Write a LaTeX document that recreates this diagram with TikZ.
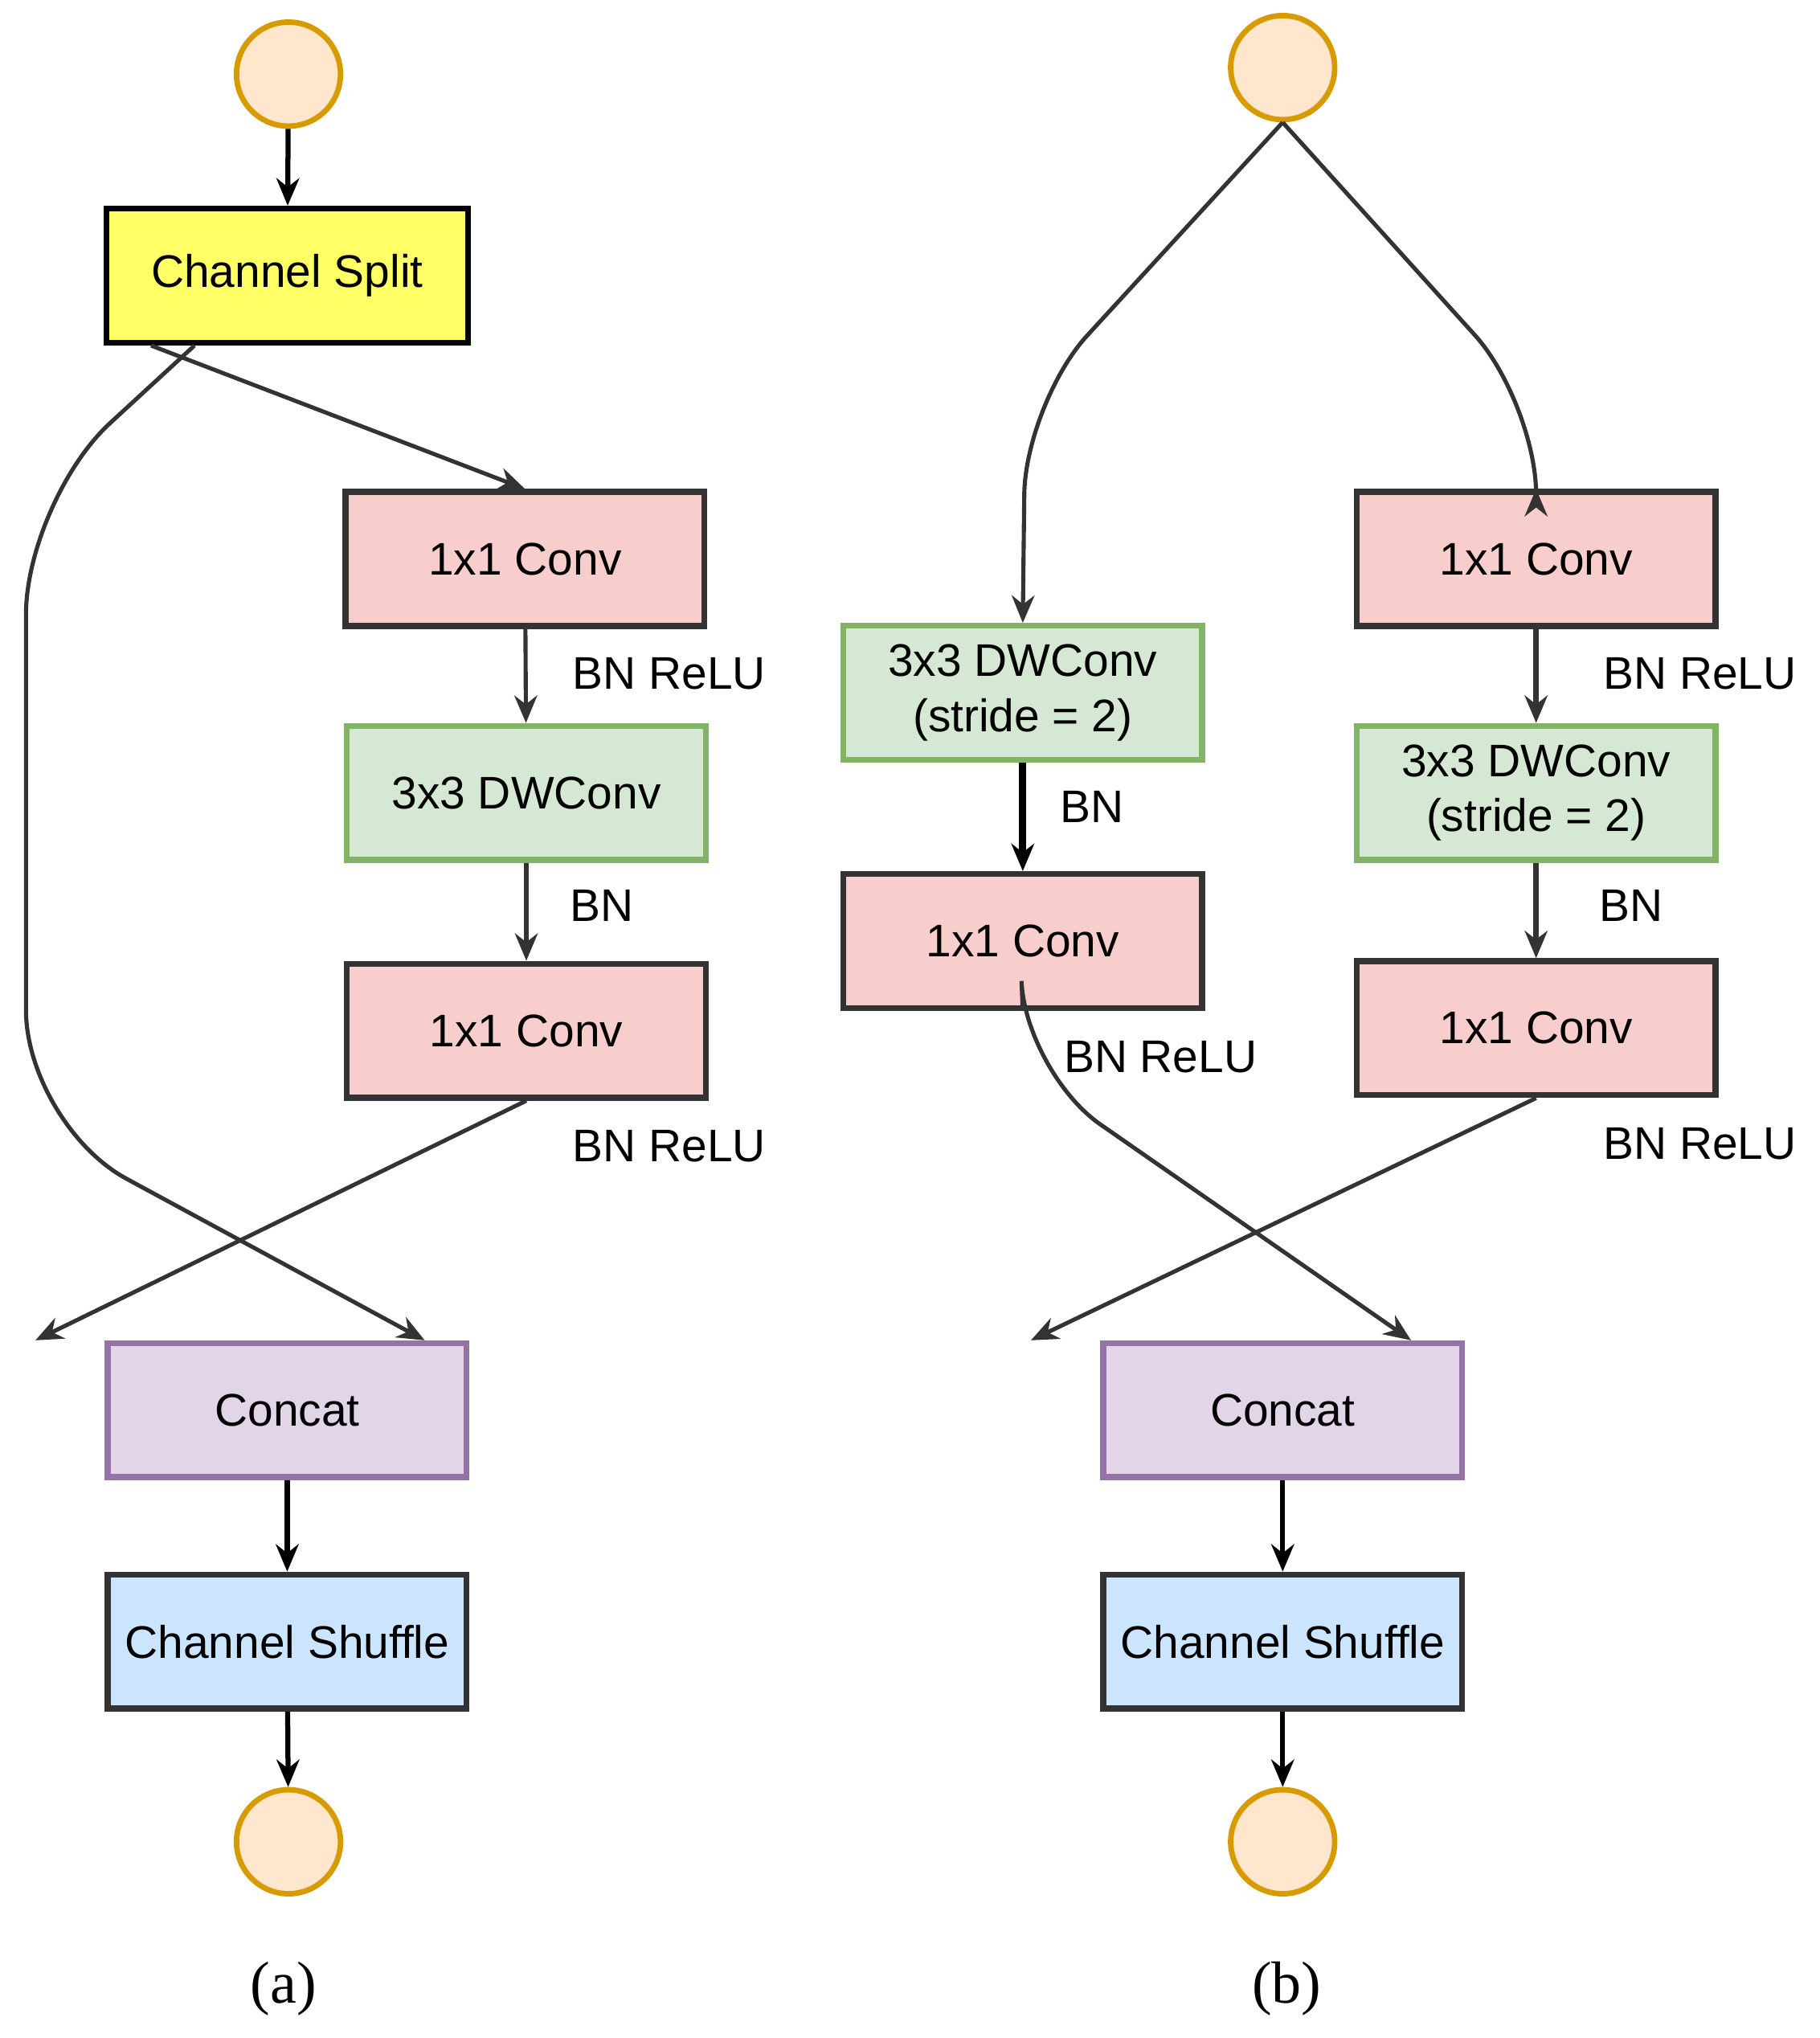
\documentclass[tikz,border=0pt]{standalone}
\usepackage{fontspec}
\setmainfont{Liberation Sans}
\newfontfamily\serifff{Liberation Serif}
\usetikzlibrary{arrows.meta}
\definecolor{pinkf}{HTML}{F8CECC}
\definecolor{greenf}{HTML}{D5E8D4}\definecolor{greend}{HTML}{82B366}
\definecolor{purpf}{HTML}{E1D5E7}\definecolor{purpd}{HTML}{9673A6}
\definecolor{bluef}{HTML}{CCE5FF}
\definecolor{yel}{HTML}{FFFF66}
\definecolor{circf}{HTML}{FFE6CC}\definecolor{circd}{HTML}{D79B00}
\definecolor{dk}{HTML}{333333}
\begin{document}
\begin{tikzpicture}[x=0.01cm,y=-0.01cm,font=\fontsize{10pt}{12pt}\selectfont,
 box/.style={draw=dk,line width=1.3pt,minimum width=2.76cm,minimum height=1.03cm,inner sep=0pt,align=center},
 conv/.style={box,fill=pinkf},
 dw/.style={box,fill=greenf,draw=greend},
 cat/.style={box,fill=purpf,draw=purpd},
 shuf/.style={box,fill=bluef},
 split/.style={box,fill=yel,draw=black,minimum width=2.78cm},
 circ/.style={circle,draw=circd,fill=circf,line width=1.2pt,minimum size=0.8cm,inner sep=0pt},
 arr/.style={-{Stealth[length=6pt,width=5pt]},draw=dk,line width=0.9pt},
 barr/.style={-{Stealth[length=6pt,width=5pt]},draw=black,line width=1.1pt},
 lab/.style={anchor=center}]
\useasboundingbox (0,0) rectangle (1400,1568);
% (a)
\node[circ] (ai) at (222,57) {};
\node[split] (as) at (221,212) {Channel Split};
\node[conv] (ac1) at (404,430) {1x1 Conv};
\node[dw] (adw) at (405,610) {3x3 DWConv};
\node[conv] (ac2) at (405,793) {1x1 Conv};
\node[cat] (acat) at (221,1085) {Concat};
\node[shuf] (ash) at (221,1263) {Channel Shuffle};
\node[circ] (ao) at (222,1417) {};
\node[font=\serifff\fontsize{13pt}{15pt}\selectfont] (la) at (218,1530) {(a)};
\node[lab] (l1) at (515,518) {BN ReLU};
\node[lab] (l2) at (463,697) {BN};
\node[lab] (l3) at (515,882) {BN ReLU};
\draw[barr] (ai) -- (as);
\coordinate (p1) at (20,385); \coordinate (p2) at (20,865);
\draw[arr,rounded corners=25pt] (as.south west)++(70,0) -- (p1) -- (p2) -- ([xshift=70]acat.north west);
\draw[arr] ([xshift=-70]as.south east) -- (ac1.north);
\draw[arr] (ac1) -- (adw);
\draw[arr] (adw) -- (ac2);
\draw[arr] (ac2.south) -- ([xshift=-95]acat.north east);
\draw[barr] (acat) -- (ash);
\draw[barr] (ash) -- (ao);
% (b)
\node[circ] (bi) at (987,52) {};
\node[dw] (bdw1) at (787,533) {3x3 DWConv\\(stride = 2)};
\node[conv] (bc1) at (787,724) {1x1 Conv};
\node[conv] (bc2) at (1182,430) {1x1 Conv};
\node[dw] (bdw2) at (1182,610) {3x3 DWConv\\(stride = 2)};
\node[conv] (bc3) at (1182,791) {1x1 Conv};
\node[cat] (bcat) at (987,1085) {Concat};
\node[shuf] (bsh) at (987,1263) {Channel Shuffle};
\node[circ] (bo) at (987,1417) {};
\node[font=\serifff\fontsize{13pt}{15pt}\selectfont] (lb) at (990,1530) {(b)};
\node[lab] (m1) at (840,621) {BN};
\node[lab] (m2) at (893,813) {BN ReLU};
\node[lab] (m3) at (1308,518) {BN ReLU};
\node[lab] (m4) at (1255,697) {BN};
\node[lab] (m5) at (1308,880) {BN ReLU};
\coordinate (q1) at (789,310); \coordinate (q2) at (1182,310); \coordinate (q3) at (789,825);
\draw[arr,rounded corners=20pt] (bi.south) -- (q1) -- (bdw1.north);
\draw[arr,rounded corners=20pt] (bi.south) -- (q2) -- (bc2.north);
\draw[barr,line width=1.6pt] (bdw1) -- (bc1);
\draw[arr,rounded corners=20pt] (bc1.south) -- (q3) -- ([xshift=68]bcat.north west);
\draw[arr,line width=1.3pt] (bc2) -- (bdw2);
\draw[arr,line width=1.3pt] (bdw2) -- (bc3);
\draw[arr] (bc3.south) -- ([xshift=-95]bcat.north east);
\draw[barr] (bcat) -- (bsh);
\draw[barr] (bsh) -- (bo);
\end{tikzpicture}
\end{document}
